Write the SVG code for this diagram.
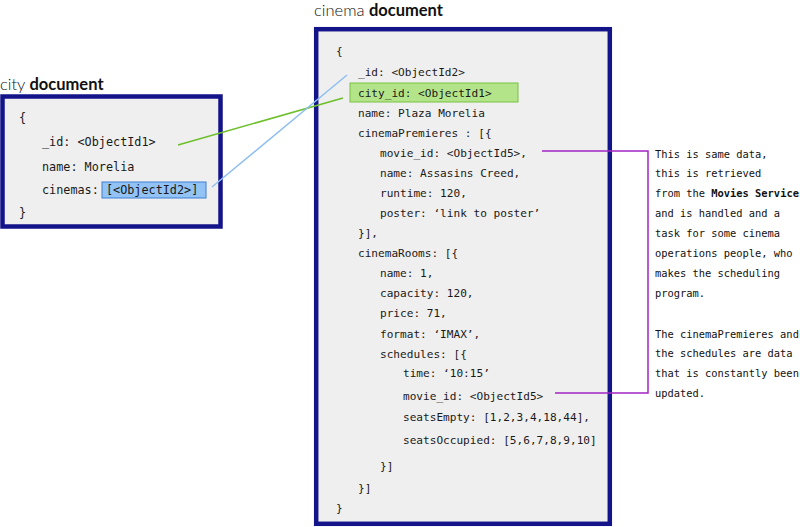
<svg xmlns="http://www.w3.org/2000/svg" width="800" height="527" viewBox="0 0 800 527">
<style>
.box{fill:#efefef;stroke:#14148a;stroke-width:4.5}
.code{font-family:"DejaVu Sans Mono","Liberation Mono",monospace;font-size:11.1px;fill:#1a1a1a}
.ccode{font-family:"DejaVu Sans Mono","Liberation Mono",monospace;font-size:11.8px;fill:#1a1a1a}
.note{font-family:"DejaVu Sans Mono","Liberation Mono",monospace;font-size:10.4px;fill:#111}
.title{font-family:Lato,"Open Sans",sans-serif;font-size:16.5px;fill:#111}
.conn{fill:none;stroke-width:1.5}
</style>
<rect width="800" height="527" fill="#ffffff"/>
<g id="city">
<text class="title" x="0" y="90"><tspan font-weight="300">city </tspan><tspan font-weight="700">document</tspan></text>
<rect class="box" x="2.5" y="96.5" width="218" height="130"/>
<rect x="102" y="182" width="104" height="16" fill="#92c3f4" stroke="#3d7fd6" stroke-width="1"/>
<text class="ccode" x="19" y="122">{</text>
<text class="ccode" x="42" y="146">_id: &lt;ObjectId1&gt;</text>
<text class="ccode" x="42" y="171">name: Morelia</text>
<text class="ccode" x="42" y="194">cinemas: [&lt;ObjectId2&gt;]</text>
<text class="ccode" x="19" y="217">}</text>
</g>
<g id="cinema">
<text class="title" x="314" y="16"><tspan font-weight="300">cinema </tspan><tspan font-weight="700">document</tspan></text>
<rect class="box" x="316.2" y="29.2" width="293.6" height="494.6"/>
<rect x="350" y="83" width="168" height="19" fill="#b4e48a" stroke="#78c241" stroke-width="1"/>
<text class="code" x="336" y="55">{</text>
<text class="code" x="358" y="76">_id: &lt;ObjectId2&gt;</text>
<text class="code" x="358" y="97">city_id: &lt;ObjectId1&gt;</text>
<text class="code" x="358" y="117">name: Plaza Morelia</text>
<text class="code" x="358" y="137">cinemaPremieres : [{</text>
<text class="code" x="380" y="157">movie_id: &lt;ObjectId5&gt;,</text>
<text class="code" x="380" y="177">name: Assasins Creed,</text>
<text class="code" x="380" y="197">runtime: 120,</text>
<text class="code" x="380" y="217">poster: ‘link to poster’</text>
<text class="code" x="358" y="237">}],</text>
<text class="code" x="358" y="257">cinemaRooms: [{</text>
<text class="code" x="380" y="277">name: 1,</text>
<text class="code" x="380" y="297">capacity: 120,</text>
<text class="code" x="380" y="317">price: 71,</text>
<text class="code" x="380" y="338">format: ‘IMAX’,</text>
<text class="code" x="380" y="358">schedules: [{</text>
<text class="code" x="403" y="377">time: ‘10:15’</text>
<text class="code" x="403" y="400">movie_id: &lt;ObjectId5&gt;</text>
<text class="code" x="403" y="421">seatsEmpty: [1,2,3,4,18,44],</text>
<text class="code" x="403" y="444">seatsOccupied: [5,6,7,8,9,10]</text>
<text class="code" x="380" y="470">}]</text>
<text class="code" x="358" y="492">}]</text>
<text class="code" x="336" y="512">}</text>
</g>
<g id="note">
<text class="note" x="655" y="158">This is same data,</text>
<text class="note" x="655" y="177">this is retrieved</text>
<text class="note" x="655" y="197">from the <tspan font-weight="700">Movies Service</tspan></text>
<text class="note" x="655" y="217">and is handled and a</text>
<text class="note" x="655" y="237">task for some cinema</text>
<text class="note" x="655" y="257">operations people, who</text>
<text class="note" x="655" y="277">makes the scheduling</text>
<text class="note" x="655" y="297">program.</text>
<text class="note" x="655" y="338">The cinemaPremieres and</text>
<text class="note" x="655" y="357">the schedules are data</text>
<text class="note" x="655" y="377">that is constantly been</text>
<text class="note" x="655" y="397">updated.</text>
</g>
<g id="connectors">
<line class="conn" x1="178" y1="145" x2="343" y2="98" stroke="#6cbf2a"/>
<line class="conn" x1="212" y1="187" x2="347" y2="75" stroke="#8fbef0"/>
<polyline class="conn" points="542,151 648,151 648,393 555,393" stroke="#a424c4"/>
</g>
</svg>
